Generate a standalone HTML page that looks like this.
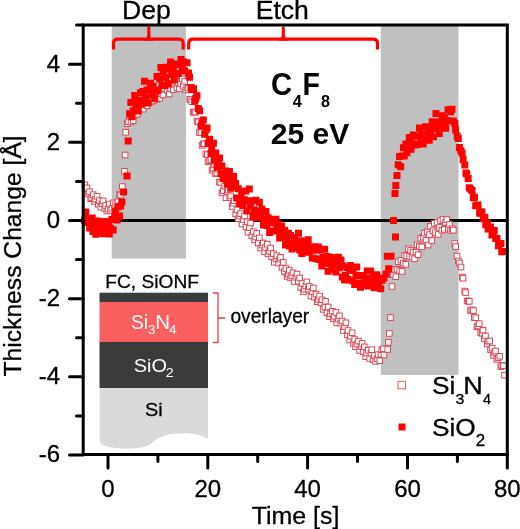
<!DOCTYPE html>
<html><head><meta charset="utf-8"><style>
html,body{margin:0;padding:0;background:#fff;}
svg{display:block;}
text{font-family:"Liberation Sans",Arial,sans-serif;}
</style></head><body>
<svg width="520" height="529" viewBox="0 0 520 529">
<rect width="520" height="529" fill="#fff"/>
<rect x="111.7" y="25" width="74.2" height="233.5" fill="#c0c0c0"/>
<rect x="380.8" y="25" width="77.7" height="350" fill="#c0c0c0"/>
<g fill="none" stroke="#ff0000" stroke-width="3.2">
<path d="M113.5 49.5 V43.5 Q113.5 39.2 117.8 39.2 H178.9 M117.8 39.2 H178.9 Q183.2 39.2 183.2 43.5 V49.5 M188.7 49.5 V43.5 Q188.7 39.2 193.0 39.2 H373.2 M193.0 39.2 H373.2 Q377.5 39.2 377.5 43.5 V49.5"/>
</g>
<path fill="#ff0000" d="M144.3 40.8 L153.3 40.8 Q150.4 38.5 150.4 35 L150.2 26.5 L147.4 26.5 L147.2 35 Q147.2 38.5 144.3 40.8 Z M278.8 40.8 L287.8 40.8 Q284.9 38.5 284.9 35 L284.7 26.5 L281.9 26.5 L281.7 35 Q281.7 38.5 278.8 40.8 Z"/>
<path d="M83.2 220.5 H507.3" stroke="#000" stroke-width="3"/>
<g stroke="#d84a5a" stroke-width="1" fill="#fff"><rect x="82" y="182" width="5.6" height="5.6"/><rect x="82.7" y="188" width="5.6" height="5.6"/><rect x="84.2" y="185.1" width="5.6" height="5.6"/><rect x="85.2" y="191.3" width="5.6" height="5.6"/><rect x="86.7" y="189" width="5.6" height="5.6"/><rect x="87.9" y="195.9" width="5.6" height="5.6"/><rect x="89" y="194.8" width="5.6" height="5.6"/><rect x="90.4" y="191.9" width="5.6" height="5.6"/><rect x="91.8" y="198.7" width="5.6" height="5.6"/><rect x="92.7" y="196.5" width="5.6" height="5.6"/><rect x="94.3" y="193.5" width="5.6" height="5.6"/><rect x="95.5" y="201.4" width="5.6" height="5.6"/><rect x="96.6" y="197.8" width="5.6" height="5.6"/><rect x="97.9" y="204.4" width="5.6" height="5.6"/><rect x="99.3" y="200.9" width="5.6" height="5.6"/><rect x="100.2" y="198.1" width="5.6" height="5.6"/><rect x="101.8" y="205.6" width="5.6" height="5.6"/><rect x="102.9" y="202.7" width="5.6" height="5.6"/><rect x="104" y="208.2" width="5.6" height="5.6"/><rect x="105.3" y="206.3" width="5.6" height="5.6"/><rect x="106.5" y="201.2" width="5.6" height="5.6"/><rect x="107.7" y="207.6" width="5.6" height="5.6"/><rect x="109.1" y="205.5" width="5.6" height="5.6"/><rect x="110.6" y="200.1" width="5.6" height="5.6"/><rect x="111.6" y="205.5" width="5.6" height="5.6"/><rect x="112.8" y="201.9" width="5.6" height="5.6"/><rect x="114.2" y="204" width="5.6" height="5.6"/><rect x="115.2" y="199" width="5.6" height="5.6"/><rect x="116.8" y="191.7" width="5.6" height="5.6"/><rect x="117.8" y="192.3" width="5.6" height="5.6"/><rect x="119.5" y="183.8" width="5.6" height="5.6"/><rect x="121.7" y="168.5" width="5.6" height="5.6"/><rect x="122.3" y="152.2" width="5.6" height="5.6"/><rect x="122.9" y="129.5" width="5.6" height="5.6"/><rect x="124.4" y="120.9" width="5.6" height="5.6"/><rect x="125.7" y="118.8" width="5.6" height="5.6"/><rect x="127" y="113.1" width="5.6" height="5.6"/><rect x="128.2" y="119.2" width="5.6" height="5.6"/><rect x="129.1" y="114.2" width="5.6" height="5.6"/><rect x="130.4" y="117.8" width="5.6" height="5.6"/><rect x="131.4" y="112.8" width="5.6" height="5.6"/><rect x="132.8" y="108" width="5.6" height="5.6"/><rect x="134.5" y="111.4" width="5.6" height="5.6"/><rect x="135.2" y="106.9" width="5.6" height="5.6"/><rect x="136.5" y="100.9" width="5.6" height="5.6"/><rect x="138.1" y="105.6" width="5.6" height="5.6"/><rect x="139.2" y="101.8" width="5.6" height="5.6"/><rect x="140.4" y="106.3" width="5.6" height="5.6"/><rect x="141.9" y="102" width="5.6" height="5.6"/><rect x="143.2" y="96.3" width="5.6" height="5.6"/><rect x="144.1" y="103" width="5.6" height="5.6"/><rect x="145.6" y="97.3" width="5.6" height="5.6"/><rect x="146.5" y="91.1" width="5.6" height="5.6"/><rect x="147.9" y="99" width="5.6" height="5.6"/><rect x="149.2" y="92.9" width="5.6" height="5.6"/><rect x="150.6" y="98.1" width="5.6" height="5.6"/><rect x="151.8" y="93.4" width="5.6" height="5.6"/><rect x="153" y="89.5" width="5.6" height="5.6"/><rect x="154" y="96.6" width="5.6" height="5.6"/><rect x="155.2" y="90.1" width="5.6" height="5.6"/><rect x="156.7" y="95.6" width="5.6" height="5.6"/><rect x="158" y="90.9" width="5.6" height="5.6"/><rect x="159.2" y="86.3" width="5.6" height="5.6"/><rect x="160.2" y="92.1" width="5.6" height="5.6"/><rect x="161.9" y="85.8" width="5.6" height="5.6"/><rect x="163.2" y="80.5" width="5.6" height="5.6"/><rect x="164.3" y="87.5" width="5.6" height="5.6"/><rect x="165.4" y="83.2" width="5.6" height="5.6"/><rect x="166.4" y="91.1" width="5.6" height="5.6"/><rect x="167.9" y="86" width="5.6" height="5.6"/><rect x="169.2" y="80.6" width="5.6" height="5.6"/><rect x="170.5" y="86.9" width="5.6" height="5.6"/><rect x="171.9" y="81.2" width="5.6" height="5.6"/><rect x="173.2" y="78.4" width="5.6" height="5.6"/><rect x="174.2" y="85.2" width="5.6" height="5.6"/><rect x="175.6" y="79.7" width="5.6" height="5.6"/><rect x="176.6" y="86" width="5.6" height="5.6"/><rect x="177.9" y="81" width="5.6" height="5.6"/><rect x="179.5" y="76.1" width="5.6" height="5.6"/><rect x="180.4" y="83.5" width="5.6" height="5.6"/><rect x="181.9" y="78.6" width="5.6" height="5.6"/><rect x="183" y="87.1" width="5.6" height="5.6"/><rect x="184.1" y="84.6" width="5.6" height="5.6"/><rect x="185.3" y="85.5" width="5.6" height="5.6"/><rect x="186.9" y="96.4" width="5.6" height="5.6"/><rect x="187.7" y="96.9" width="5.6" height="5.6"/><rect x="189" y="98.9" width="5.6" height="5.6"/><rect x="190.4" y="109.4" width="5.6" height="5.6"/><rect x="191.6" y="109.3" width="5.6" height="5.6"/><rect x="192.8" y="109.3" width="5.6" height="5.6"/><rect x="194.3" y="118.3" width="5.6" height="5.6"/><rect x="195.6" y="119" width="5.6" height="5.6"/><rect x="196.6" y="129.7" width="5.6" height="5.6"/><rect x="198.2" y="129.7" width="5.6" height="5.6"/><rect x="199.3" y="142.5" width="5.6" height="5.6"/><rect x="200.6" y="141.1" width="5.6" height="5.6"/><rect x="201.4" y="140.9" width="5.6" height="5.6"/><rect x="203" y="151.1" width="5.6" height="5.6"/><rect x="204.5" y="151.9" width="5.6" height="5.6"/><rect x="205.3" y="159" width="5.6" height="5.6"/><rect x="206.8" y="158" width="5.6" height="5.6"/><rect x="208.1" y="156.8" width="5.6" height="5.6"/><rect x="209.3" y="167.4" width="5.6" height="5.6"/><rect x="210.6" y="165.7" width="5.6" height="5.6"/><rect x="211.8" y="162.1" width="5.6" height="5.6"/><rect x="212.8" y="170.8" width="5.6" height="5.6"/><rect x="214" y="170.2" width="5.6" height="5.6"/><rect x="215.3" y="166.4" width="5.6" height="5.6"/><rect x="216.6" y="179.3" width="5.6" height="5.6"/><rect x="218" y="179.6" width="5.6" height="5.6"/><rect x="219.2" y="190" width="5.6" height="5.6"/><rect x="220.5" y="187.9" width="5.6" height="5.6"/><rect x="222" y="183.4" width="5.6" height="5.6"/><rect x="223.2" y="195" width="5.6" height="5.6"/><rect x="224.5" y="189" width="5.6" height="5.6"/><rect x="225.4" y="187.1" width="5.6" height="5.6"/><rect x="226.9" y="194.7" width="5.6" height="5.6"/><rect x="227.9" y="193.1" width="5.6" height="5.6"/><rect x="229.4" y="203.7" width="5.6" height="5.6"/><rect x="230.3" y="200.5" width="5.6" height="5.6"/><rect x="231.4" y="198" width="5.6" height="5.6"/><rect x="232.9" y="211.2" width="5.6" height="5.6"/><rect x="234.3" y="207" width="5.6" height="5.6"/><rect x="235.3" y="216" width="5.6" height="5.6"/><rect x="236.8" y="213.4" width="5.6" height="5.6"/><rect x="237.8" y="210.8" width="5.6" height="5.6"/><rect x="239.2" y="221.2" width="5.6" height="5.6"/><rect x="240.5" y="216.7" width="5.6" height="5.6"/><rect x="241.7" y="213.2" width="5.6" height="5.6"/><rect x="243.2" y="224.3" width="5.6" height="5.6"/><rect x="244.3" y="219" width="5.6" height="5.6"/><rect x="245.2" y="229.5" width="5.6" height="5.6"/><rect x="246.6" y="224.9" width="5.6" height="5.6"/><rect x="247.7" y="220.2" width="5.6" height="5.6"/><rect x="249.1" y="232.9" width="5.6" height="5.6"/><rect x="250.6" y="228.9" width="5.6" height="5.6"/><rect x="251.8" y="237" width="5.6" height="5.6"/><rect x="252.8" y="234.2" width="5.6" height="5.6"/><rect x="253.9" y="230.6" width="5.6" height="5.6"/><rect x="255.5" y="240.4" width="5.6" height="5.6"/><rect x="256.5" y="235.1" width="5.6" height="5.6"/><rect x="257.9" y="245.2" width="5.6" height="5.6"/><rect x="259.3" y="242.3" width="5.6" height="5.6"/><rect x="260.5" y="240.2" width="5.6" height="5.6"/><rect x="261.8" y="249.1" width="5.6" height="5.6"/><rect x="262.8" y="244.7" width="5.6" height="5.6"/><rect x="264.5" y="241.4" width="5.6" height="5.6"/><rect x="265.3" y="251" width="5.6" height="5.6"/><rect x="266.7" y="248.5" width="5.6" height="5.6"/><rect x="267.8" y="245.3" width="5.6" height="5.6"/><rect x="268.9" y="253.9" width="5.6" height="5.6"/><rect x="270.5" y="251" width="5.6" height="5.6"/><rect x="271.5" y="259.4" width="5.6" height="5.6"/><rect x="273.2" y="256.2" width="5.6" height="5.6"/><rect x="274" y="252.9" width="5.6" height="5.6"/><rect x="275.7" y="260.3" width="5.6" height="5.6"/><rect x="276.9" y="256.5" width="5.6" height="5.6"/><rect x="277.7" y="254.6" width="5.6" height="5.6"/><rect x="279.3" y="264.7" width="5.6" height="5.6"/><rect x="280.5" y="259.6" width="5.6" height="5.6"/><rect x="281.6" y="268.8" width="5.6" height="5.6"/><rect x="283.2" y="265.8" width="5.6" height="5.6"/><rect x="284.4" y="273.6" width="5.6" height="5.6"/><rect x="285.6" y="271.5" width="5.6" height="5.6"/><rect x="286.4" y="267.6" width="5.6" height="5.6"/><rect x="287.8" y="275.1" width="5.6" height="5.6"/><rect x="288.9" y="272.7" width="5.6" height="5.6"/><rect x="290.2" y="270" width="5.6" height="5.6"/><rect x="291.4" y="278.7" width="5.6" height="5.6"/><rect x="293.1" y="274.5" width="5.6" height="5.6"/><rect x="294.2" y="271.3" width="5.6" height="5.6"/><rect x="295.5" y="278.4" width="5.6" height="5.6"/><rect x="296.9" y="275.2" width="5.6" height="5.6"/><rect x="298" y="284.7" width="5.6" height="5.6"/><rect x="299.4" y="280.7" width="5.6" height="5.6"/><rect x="300.7" y="288.8" width="5.6" height="5.6"/><rect x="301.6" y="286.5" width="5.6" height="5.6"/><rect x="303" y="283.2" width="5.6" height="5.6"/><rect x="304" y="279.1" width="5.6" height="5.6"/><rect x="305.6" y="286.4" width="5.6" height="5.6"/><rect x="306.5" y="283.6" width="5.6" height="5.6"/><rect x="308.2" y="293.2" width="5.6" height="5.6"/><rect x="309.2" y="288.8" width="5.6" height="5.6"/><rect x="310.6" y="285.2" width="5.6" height="5.6"/><rect x="311.7" y="294.4" width="5.6" height="5.6"/><rect x="313.2" y="291.4" width="5.6" height="5.6"/><rect x="314.4" y="298.9" width="5.6" height="5.6"/><rect x="315.5" y="296.7" width="5.6" height="5.6"/><rect x="316.8" y="293.3" width="5.6" height="5.6"/><rect x="318.2" y="300.1" width="5.6" height="5.6"/><rect x="319.2" y="297" width="5.6" height="5.6"/><rect x="320.3" y="306.6" width="5.6" height="5.6"/><rect x="322" y="304.3" width="5.6" height="5.6"/><rect x="322.7" y="298.5" width="5.6" height="5.6"/><rect x="324.1" y="310" width="5.6" height="5.6"/><rect x="325.4" y="304.2" width="5.6" height="5.6"/><rect x="326.7" y="313.9" width="5.6" height="5.6"/><rect x="327.7" y="311" width="5.6" height="5.6"/><rect x="329.5" y="308.5" width="5.6" height="5.6"/><rect x="330.6" y="315.8" width="5.6" height="5.6"/><rect x="331.7" y="313.5" width="5.6" height="5.6"/><rect x="333.1" y="309.6" width="5.6" height="5.6"/><rect x="333.9" y="320.1" width="5.6" height="5.6"/><rect x="335.3" y="316.2" width="5.6" height="5.6"/><rect x="336.7" y="313" width="5.6" height="5.6"/><rect x="337.9" y="320.3" width="5.6" height="5.6"/><rect x="339.2" y="318.1" width="5.6" height="5.6"/><rect x="340.6" y="327.7" width="5.6" height="5.6"/><rect x="341.8" y="324" width="5.6" height="5.6"/><rect x="343.1" y="320" width="5.6" height="5.6"/><rect x="344.4" y="332" width="5.6" height="5.6"/><rect x="345.2" y="327.7" width="5.6" height="5.6"/><rect x="346.9" y="337.2" width="5.6" height="5.6"/><rect x="347.7" y="333.4" width="5.6" height="5.6"/><rect x="349.4" y="330" width="5.6" height="5.6"/><rect x="350.7" y="340.6" width="5.6" height="5.6"/><rect x="351.8" y="336.7" width="5.6" height="5.6"/><rect x="352.7" y="343.9" width="5.6" height="5.6"/><rect x="354.2" y="341.3" width="5.6" height="5.6"/><rect x="355.7" y="338.4" width="5.6" height="5.6"/><rect x="356.8" y="347.6" width="5.6" height="5.6"/><rect x="358.2" y="343.6" width="5.6" height="5.6"/><rect x="359.3" y="340.6" width="5.6" height="5.6"/><rect x="360.4" y="349" width="5.6" height="5.6"/><rect x="361.5" y="344.1" width="5.6" height="5.6"/><rect x="362.9" y="353.9" width="5.6" height="5.6"/><rect x="363.9" y="350.2" width="5.6" height="5.6"/><rect x="365.4" y="347.5" width="5.6" height="5.6"/><rect x="366.9" y="355.7" width="5.6" height="5.6"/><rect x="368.2" y="350.3" width="5.6" height="5.6"/><rect x="369" y="346.9" width="5.6" height="5.6"/><rect x="370.3" y="357" width="5.6" height="5.6"/><rect x="371.7" y="352.6" width="5.6" height="5.6"/><rect x="372.8" y="358.6" width="5.6" height="5.6"/><rect x="374.3" y="355.9" width="5.6" height="5.6"/><rect x="375.3" y="351.9" width="5.6" height="5.6"/><rect x="377" y="357.9" width="5.6" height="5.6"/><rect x="378.2" y="351.3" width="5.6" height="5.6"/><rect x="379" y="346.9" width="5.6" height="5.6"/><rect x="380.6" y="346" width="5.6" height="5.6"/><rect x="381.2" y="352.2" width="5.6" height="5.6"/><rect x="384.9" y="346.6" width="5.6" height="5.6"/><rect x="385.6" y="339.6" width="5.6" height="5.6"/><rect x="386.5" y="330.7" width="5.6" height="5.6"/><rect x="387.7" y="314.8" width="5.6" height="5.6"/><rect x="389.2" y="283.7" width="5.6" height="5.6"/><rect x="389.2" y="271.7" width="5.6" height="5.6"/><rect x="390.4" y="271.9" width="5.6" height="5.6"/><rect x="391.8" y="266.7" width="5.6" height="5.6"/><rect x="393" y="273.9" width="5.6" height="5.6"/><rect x="394.2" y="266.5" width="5.6" height="5.6"/><rect x="395.5" y="258.9" width="5.6" height="5.6"/><rect x="396.9" y="267.7" width="5.6" height="5.6"/><rect x="398.1" y="257.4" width="5.6" height="5.6"/><rect x="399.2" y="268.6" width="5.6" height="5.6"/><rect x="400.6" y="260.4" width="5.6" height="5.6"/><rect x="401.9" y="252.6" width="5.6" height="5.6"/><rect x="403" y="261.5" width="5.6" height="5.6"/><rect x="403.9" y="253" width="5.6" height="5.6"/><rect x="405.6" y="246" width="5.6" height="5.6"/><rect x="406.9" y="253.6" width="5.6" height="5.6"/><rect x="407.8" y="247.6" width="5.6" height="5.6"/><rect x="409.3" y="254.3" width="5.6" height="5.6"/><rect x="410.2" y="249.3" width="5.6" height="5.6"/><rect x="411.7" y="256" width="5.6" height="5.6"/><rect x="413.2" y="249.5" width="5.6" height="5.6"/><rect x="414.4" y="242" width="5.6" height="5.6"/><rect x="415.3" y="251.9" width="5.6" height="5.6"/><rect x="416.5" y="243.6" width="5.6" height="5.6"/><rect x="417.9" y="235.5" width="5.6" height="5.6"/><rect x="419" y="244.1" width="5.6" height="5.6"/><rect x="420.4" y="234.3" width="5.6" height="5.6"/><rect x="421.6" y="230.3" width="5.6" height="5.6"/><rect x="423.2" y="237.4" width="5.6" height="5.6"/><rect x="424.4" y="229.1" width="5.6" height="5.6"/><rect x="425.3" y="242.2" width="5.6" height="5.6"/><rect x="426.6" y="231.8" width="5.6" height="5.6"/><rect x="427.7" y="223.6" width="5.6" height="5.6"/><rect x="429" y="237.8" width="5.6" height="5.6"/><rect x="430.2" y="227.9" width="5.6" height="5.6"/><rect x="431.5" y="220.5" width="5.6" height="5.6"/><rect x="432.7" y="229.8" width="5.6" height="5.6"/><rect x="434.3" y="219.7" width="5.6" height="5.6"/><rect x="435.4" y="231.6" width="5.6" height="5.6"/><rect x="436.7" y="224.7" width="5.6" height="5.6"/><rect x="437.7" y="217.8" width="5.6" height="5.6"/><rect x="439.1" y="227.5" width="5.6" height="5.6"/><rect x="440.2" y="216.6" width="5.6" height="5.6"/><rect x="441.5" y="226.6" width="5.6" height="5.6"/><rect x="442.8" y="219.6" width="5.6" height="5.6"/><rect x="444" y="216.8" width="5.6" height="5.6"/><rect x="445.5" y="225.3" width="5.6" height="5.6"/><rect x="446.7" y="221.6" width="5.6" height="5.6"/><rect x="447.7" y="227.5" width="5.6" height="5.6"/><rect x="449.3" y="225.8" width="5.6" height="5.6"/><rect x="450.5" y="227.4" width="5.6" height="5.6"/><rect x="451.9" y="240.7" width="5.6" height="5.6"/><rect x="452.9" y="243.8" width="5.6" height="5.6"/><rect x="454.2" y="253.3" width="5.6" height="5.6"/><rect x="455.6" y="258.2" width="5.6" height="5.6"/><rect x="456.7" y="260.2" width="5.6" height="5.6"/><rect x="458.2" y="264.2" width="5.6" height="5.6"/><rect x="459.4" y="274.2" width="5.6" height="5.6"/><rect x="460.2" y="275.4" width="5.6" height="5.6"/><rect x="461.9" y="288.3" width="5.6" height="5.6"/><rect x="462.8" y="289.8" width="5.6" height="5.6"/><rect x="464.3" y="298.2" width="5.6" height="5.6"/><rect x="465.6" y="298.2" width="5.6" height="5.6"/><rect x="466.5" y="298.5" width="5.6" height="5.6"/><rect x="467.7" y="307.6" width="5.6" height="5.6"/><rect x="469.1" y="307" width="5.6" height="5.6"/><rect x="470.6" y="307.8" width="5.6" height="5.6"/><rect x="471.5" y="314.7" width="5.6" height="5.6"/><rect x="473" y="314.9" width="5.6" height="5.6"/><rect x="474.2" y="324" width="5.6" height="5.6"/><rect x="475.2" y="323.2" width="5.6" height="5.6"/><rect x="476.4" y="320.9" width="5.6" height="5.6"/><rect x="477.9" y="329.8" width="5.6" height="5.6"/><rect x="479.4" y="330.6" width="5.6" height="5.6"/><rect x="480.2" y="327.4" width="5.6" height="5.6"/><rect x="481.5" y="335.7" width="5.6" height="5.6"/><rect x="482.7" y="333.2" width="5.6" height="5.6"/><rect x="484.5" y="341.1" width="5.6" height="5.6"/><rect x="485.2" y="338.4" width="5.6" height="5.6"/><rect x="486.9" y="338.2" width="5.6" height="5.6"/><rect x="487.7" y="346.8" width="5.6" height="5.6"/><rect x="489.3" y="345.4" width="5.6" height="5.6"/><rect x="490.7" y="352.5" width="5.6" height="5.6"/><rect x="491.8" y="349.7" width="5.6" height="5.6"/><rect x="492.8" y="348.3" width="5.6" height="5.6"/><rect x="494" y="356.6" width="5.6" height="5.6"/><rect x="495.4" y="355" width="5.6" height="5.6"/><rect x="497" y="353.5" width="5.6" height="5.6"/><rect x="498" y="363.8" width="5.6" height="5.6"/><rect x="499" y="362.7" width="5.6" height="5.6"/><rect x="500.6" y="363" width="5.6" height="5.6"/><rect x="501.7" y="372.4" width="5.6" height="5.6"/></g>
<path fill="#ff0000" d="M81 216.7h7v7h-7zM82.2 208.6h7v7h-7zM83.6 219.1h7v7h-7zM84.8 214.7h7v7h-7zM86.2 224.4h7v7h-7zM87.1 217.9h7v7h-7zM88.7 214.6h7v7h-7zM89.5 228h7v7h-7zM91.3 220.6h7v7h-7zM92.3 230.7h7v7h-7zM93.2 225.6h7v7h-7zM94.5 217.6h7v7h-7zM95.8 229.4h7v7h-7zM97.2 224.8h7v7h-7zM98.7 218.1h7v7h-7zM99.8 230.2h7v7h-7zM101.1 222.8h7v7h-7zM102.1 218h7v7h-7zM103.8 229.5h7v7h-7zM104.9 218.9h7v7h-7zM105.8 230.6h7v7h-7zM107 224.7h7v7h-7zM108.4 215.9h7v7h-7zM109.7 226.5h7v7h-7zM111.2 212.6h7v7h-7zM112.1 207.9h7v7h-7zM113.5 216.5h7v7h-7zM114.7 203.2h7v7h-7zM116.1 212.6h7v7h-7zM117.1 202.6h7v7h-7zM118.4 198.4h7v7h-7zM120.1 188.5h7v7h-7zM123.5 172.5h7v7h-7zM124.7 137.5h7v7h-7zM126.1 110.3h7v7h-7zM127.3 99h7v7h-7zM128.5 113.3h7v7h-7zM129.6 107.2h7v7h-7zM131.2 92h7v7h-7zM132.5 105.3h7v7h-7zM133.4 98.3h7v7h-7zM134.8 107.5h7v7h-7zM136.3 96.7h7v7h-7zM137.1 89.3h7v7h-7zM138.4 100.5h7v7h-7zM139.5 88h7v7h-7zM141 77.8h7v7h-7zM142.3 93.8h7v7h-7zM143.5 86.6h7v7h-7zM144.7 99.6h7v7h-7zM146.2 85.9h7v7h-7zM147 79.7h7v7h-7zM148.7 90.9h7v7h-7zM149.6 83.1h7v7h-7zM151.3 94.9h7v7h-7zM152.5 87.7h7v7h-7zM153.6 73.1h7v7h-7zM154.5 86.7h7v7h-7zM156.3 75.6h7v7h-7zM157.4 64h7v7h-7zM158.7 81.9h7v7h-7zM159.6 67.9h7v7h-7zM161.1 81.9h7v7h-7zM162.1 74h7v7h-7zM163.7 63.8h7v7h-7zM164.6 80.6h7v7h-7zM165.8 65.5h7v7h-7zM167.1 58.5h7v7h-7zM168.2 71.1h7v7h-7zM169.7 64h7v7h-7zM170.8 76.3h7v7h-7zM172.5 70.4h7v7h-7zM173.6 60.4h7v7h-7zM174.8 70h7v7h-7zM175.7 61.2h7v7h-7zM177.5 56.1h7v7h-7zM178.8 63.8h7v7h-7zM179.8 58.3h7v7h-7zM181.1 67.3h7v7h-7zM182.5 59.2h7v7h-7zM183.5 59.2h7v7h-7zM185 69.4h7v7h-7zM186.1 73.8h7v7h-7zM187.5 84h7v7h-7zM188.6 85.9h7v7h-7zM190 85.2h7v7h-7zM191.2 97.7h7v7h-7zM192.3 95.1h7v7h-7zM193.4 92.3h7v7h-7zM194.8 105.1h7v7h-7zM196.1 107.2h7v7h-7zM197.5 122.6h7v7h-7zM198.4 119.4h7v7h-7zM199.8 116.4h7v7h-7zM201.2 130.8h7v7h-7zM202.4 126.5h7v7h-7zM203.6 124.4h7v7h-7zM204.6 139.7h7v7h-7zM206 135.8h7v7h-7zM207.5 150h7v7h-7zM208.2 144.6h7v7h-7zM209.9 139.8h7v7h-7zM210.8 156.8h7v7h-7zM212.3 149.6h7v7h-7zM213.7 163.8h7v7h-7zM214.8 157.4h7v7h-7zM216 154.5h7v7h-7zM217.5 170h7v7h-7zM218.4 162.4h7v7h-7zM219.6 175.2h7v7h-7zM221 173.4h7v7h-7zM222.5 167.5h7v7h-7zM223.8 180.8h7v7h-7zM224.6 175h7v7h-7zM225.9 167.9h7v7h-7zM227.2 184.7h7v7h-7zM228.5 176.3h7v7h-7zM230 173.1h7v7h-7zM231 183h7v7h-7zM232 179.9h7v7h-7zM233.2 194.5h7v7h-7zM234.8 185.2h7v7h-7zM236.2 200.2h7v7h-7zM237 194.5h7v7h-7zM238.2 188.4h7v7h-7zM239.6 201.9h7v7h-7zM240.7 196.2h7v7h-7zM242.2 187.4h7v7h-7zM243.6 207.5h7v7h-7zM245 197.4h7v7h-7zM245.8 185.5h7v7h-7zM247.1 201.9h7v7h-7zM248.5 197.2h7v7h-7zM249.6 213.3h7v7h-7zM250.9 206.6h7v7h-7zM252.3 196.8h7v7h-7zM253.7 214h7v7h-7zM254.9 208.2h7v7h-7zM255.8 198.8h7v7h-7zM257.4 211.7h7v7h-7zM258.5 205.8h7v7h-7zM260 221.4h7v7h-7zM261 215.7h7v7h-7zM262.4 208.1h7v7h-7zM263.5 222h7v7h-7zM264.6 214.2h7v7h-7zM266.2 229h7v7h-7zM267.4 219h7v7h-7zM268.7 215.8h7v7h-7zM270 227.5h7v7h-7zM271.2 219.6h7v7h-7zM272.5 215.8h7v7h-7zM273.4 225.3h7v7h-7zM274.7 221.1h7v7h-7zM276.2 234.5h7v7h-7zM277 229.2h7v7h-7zM278.2 222.6h7v7h-7zM279.6 234h7v7h-7zM281.2 226.9h7v7h-7zM282 241.6h7v7h-7zM283.6 236.3h7v7h-7zM284.9 229.7h7v7h-7zM286 242.6h7v7h-7zM287 232h7v7h-7zM288.5 245.4h7v7h-7zM289.9 240h7v7h-7zM291 233.9h7v7h-7zM292.3 244.3h7v7h-7zM293.4 239.8h7v7h-7zM295 229.8h7v7h-7zM296.2 246.4h7v7h-7zM297.3 237.3h7v7h-7zM298.3 250h7v7h-7zM299.8 243.4h7v7h-7zM300.7 237.9h7v7h-7zM302.3 248.5h7v7h-7zM303.7 242.6h7v7h-7zM304.7 236.3h7v7h-7zM305.7 248.8h7v7h-7zM307.2 244.1h7v7h-7zM308.8 254.4h7v7h-7zM309.7 246.7h7v7h-7zM311 243.2h7v7h-7zM312.5 255.2h7v7h-7zM313.4 246.7h7v7h-7zM314.8 243.5h7v7h-7zM315.8 256.1h7v7h-7zM317 246.3h7v7h-7zM318.3 262.4h7v7h-7zM319.6 253.8h7v7h-7zM321.1 245.7h7v7h-7zM322.4 259.4h7v7h-7zM323.5 252.9h7v7h-7zM324.6 267.7h7v7h-7zM326 260h7v7h-7zM327.2 253.7h7v7h-7zM328.3 265.6h7v7h-7zM329.8 260.9h7v7h-7zM331 254.7h7v7h-7zM332.3 268.4h7v7h-7zM333.3 260.3h7v7h-7zM334.9 253.8h7v7h-7zM335.9 264.3h7v7h-7zM337.5 256.5h7v7h-7zM338.8 273.5h7v7h-7zM339.5 262.5h7v7h-7zM341.1 276.4h7v7h-7zM342 271.7h7v7h-7zM343.5 264h7v7h-7zM344.5 275.7h7v7h-7zM346.1 266.3h7v7h-7zM347.1 262h7v7h-7zM348.7 277.3h7v7h-7zM349.5 267.1h7v7h-7zM351.2 280.9h7v7h-7zM352.4 271.7h7v7h-7zM353.2 263.4h7v7h-7zM354.5 279.4h7v7h-7zM356 271.9h7v7h-7zM357 283.7h7v7h-7zM358.3 279.4h7v7h-7zM360 272.3h7v7h-7zM360.8 281.5h7v7h-7zM362.5 276h7v7h-7zM363.7 267.5h7v7h-7zM364.7 282.4h7v7h-7zM366 275h7v7h-7zM367 267.6h7v7h-7zM368.7 279h7v7h-7zM369.7 273.6h7v7h-7zM370.9 284.3h7v7h-7zM372 277.6h7v7h-7zM373.2 271.2h7v7h-7zM374.9 283.8h7v7h-7zM376.2 275h7v7h-7zM377.2 285.3h7v7h-7zM378.5 276.8h7v7h-7zM380.5 274.5h7v7h-7zM382.5 270.5h7v7h-7zM383.8 252.8h7v7h-7zM385.2 265.2h7v7h-7zM387.5 252.8h7v7h-7zM390 217.1h7v7h-7zM391.5 190.1h7v7h-7zM392 233.5h7v7h-7zM392.3 182h7v7h-7zM393.5 172h7v7h-7zM394.7 161.2h7v7h-7zM396 153h7v7h-7zM397.2 163.3h7v7h-7zM398.6 152.4h7v7h-7zM399.9 144.2h7v7h-7zM400.7 152.4h7v7h-7zM402.4 140.5h7v7h-7zM403.4 149.2h7v7h-7zM404.6 142.6h7v7h-7zM405.8 133.9h7v7h-7zM407.5 145.8h7v7h-7zM408.5 139.7h7v7h-7zM409.8 131.5h7v7h-7zM411.1 141.6h7v7h-7zM412 132.5h7v7h-7zM413.7 140.9h7v7h-7zM415 132.8h7v7h-7zM416 124.5h7v7h-7zM417.2 137.9h7v7h-7zM418.2 131.1h7v7h-7zM419.7 140.5h7v7h-7zM421.1 130.8h7v7h-7zM422.1 123.3h7v7h-7zM423.5 133.4h7v7h-7zM424.9 124.2h7v7h-7zM425.7 136.8h7v7h-7zM427 127h7v7h-7zM428.7 118.3h7v7h-7zM430 133.2h7v7h-7zM430.7 125.2h7v7h-7zM432.5 109.9h7v7h-7zM433.7 125.3h7v7h-7zM434.7 118.6h7v7h-7zM435.8 129.9h7v7h-7zM437.5 120.6h7v7h-7zM438.5 112.3h7v7h-7zM439.9 123.5h7v7h-7zM440.8 114.1h7v7h-7zM442.2 124.8h7v7h-7zM443.2 117h7v7h-7zM444.5 106.2h7v7h-7zM446.1 117.6h7v7h-7zM447.1 108.2h7v7h-7zM448.5 105.7h7v7h-7zM449.8 117.6h7v7h-7zM451.3 119.8h7v7h-7zM452.1 126.5h7v7h-7zM453.7 132.8h7v7h-7zM454.8 134.9h7v7h-7zM455.9 144.1h7v7h-7zM457.3 147.3h7v7h-7zM458.6 149.5h7v7h-7zM459.6 156.3h7v7h-7zM461.3 161.5h7v7h-7zM462.5 169.4h7v7h-7zM463.2 170.5h7v7h-7zM464.7 175.1h7v7h-7zM465.8 184.3h7v7h-7zM467 185.4h7v7h-7zM468.6 187.1h7v7h-7zM469.8 194.2h7v7h-7zM471 193.8h7v7h-7zM472.2 202.2h7v7h-7zM473.7 201.4h7v7h-7zM474.5 201.6h7v7h-7zM476.1 209.7h7v7h-7zM477.1 208.2h7v7h-7zM478.4 208.6h7v7h-7zM479.7 215.3h7v7h-7zM481.3 213.8h7v7h-7zM482.3 221.3h7v7h-7zM483.8 219.5h7v7h-7zM484.7 225.4h7v7h-7zM486.2 224.5h7v7h-7zM487 223.4h7v7h-7zM488.5 231.4h7v7h-7zM489.6 230h7v7h-7zM490.7 227.1h7v7h-7zM492.3 235h7v7h-7zM493.4 234.7h7v7h-7zM494.9 242.3h7v7h-7zM495.8 240.6h7v7h-7zM497.4 240h7v7h-7zM498.3 248.3h7v7h-7zM499.8 248.1h7v7h-7zM501.3 248.1h7v7h-7z"/>
<g fill="none" stroke="#000" stroke-width="3">
<path d="M83.2 25 H507.3 V454.6 H83.2 Z"/>
<path stroke-linecap="round" d="M69.5 64.2 H83.2 M69.5 142.3 H83.2 M69.5 220.5 H83.2 M69.5 298.7 H83.2 M69.5 376.8 H83.2 M69.5 455 H83.2 M76.5 25.1 H83.2 M76.5 103.3 H83.2 M76.5 181.4 H83.2 M76.5 259.6 H83.2 M76.5 337.7 H83.2 M76.5 415.9 H83.2 M108 454.6 V468 M207.8 454.6 V468 M307.6 454.6 V468 M407.5 454.6 V468 M507.3 454.6 V468 M157.9 454.6 V461.5 M257.7 454.6 V461.5 M357.5 454.6 V461.5 M457.4 454.6 V461.5"/>
</g>
<g font-size="24" fill="#000" stroke="#000" stroke-width="0.3">
<g text-anchor="end"><text x="60" y="71.6">4</text><text x="60" y="149.7">2</text><text x="60" y="227.9">0</text><text x="60" y="306.1">-2</text><text x="60" y="384.2">-4</text><text x="60" y="462.4">-6</text></g>
<g text-anchor="middle"><text x="108" y="497.2">0</text><text x="207.8" y="497.2">20</text><text x="307.6" y="497.2">40</text><text x="407.5" y="497.2">60</text><text x="507.3" y="497.2">80</text></g>
</g>
<g fill="#000" stroke="#000" stroke-width="0.3">
<text transform="translate(251.7,523.6) scale(1.006,1)" font-size="24.8">Time [s]</text>
<text transform="translate(21.2,376.5) rotate(-90)" font-size="24.67">Thickness Change [Å]</text>
<text x="122" y="18.8" font-size="26.6">Dep</text>
<text x="255.7" y="18.8" font-size="26.6">Etch</text>
</g>
<g font-weight="bold" fill="#000">
<text transform="translate(271,95.3) scale(0.95,1)" font-size="30.8">C</text>
<text transform="translate(302.5,95.4) scale(0.925,1)" font-size="30.8">F</text>
<text transform="translate(292.8,107.1) scale(0.94,1)" font-size="17.4">4</text>
<text transform="translate(320.9,107.0) scale(0.93,1)" font-size="17.4">8</text>
<text x="270.8" y="143.75" font-size="30.07">25 eV</text>
</g>
<!-- inset -->
<path d="M99.6 388 H208 V438.8 C198 433 184 432.5 173.5 433.8 C163 435 156 439 151 444 C146 448 130 449 118 448.2 C106 447.5 99.6 445 99.6 440 Z" fill="#dadada"/>
<rect x="99.5" y="342" width="108.5" height="46" fill="#3b3b3b"/>
<rect x="99.5" y="302" width="108.5" height="40" fill="#fa5f5f"/>
<rect x="99.5" y="292.7" width="108.5" height="9.3" fill="#383c3e"/>
<path d="M212.7 293 H218 V342.5 H212.7 M218 318 H225" fill="none" stroke="#d84848" stroke-width="1.3"/>
<g fill="#000" stroke="#000" stroke-width="0.3">
<text transform="translate(105.3,287.5) scale(1.02,1)" font-size="18.8">FC, SiONF</text>
<text transform="translate(230.4,323.2) scale(0.993,1)" font-size="19.3">overlayer</text>
<text transform="translate(145,416.05) scale(1.044,1)" font-size="19.1">Si</text>
</g>
<g fill="#fff">
<text transform="translate(131,329.25) scale(0.98,1)" font-size="19.6">Si</text>
<text transform="translate(147.9,333.8) scale(0.985,1)" font-size="13.6">3</text>
<text transform="translate(155.2,329.2) scale(1.045,1)" font-size="19.6">N</text>
<text transform="translate(168.9,333.6) scale(1.05,1)" font-size="13">4</text>
<text transform="translate(133.8,372.45) scale(1.04,1)" font-size="19.2">SiO</text>
<text transform="translate(165.7,377.2) scale(1.1,1)" font-size="13">2</text>
</g>
<!-- legend -->
<rect x="398" y="381.3" width="7.5" height="7.5" fill="#fff" stroke="#e06060" stroke-width="1"/>
<rect x="398.5" y="423.5" width="7" height="7" fill="#ff0000"/>
<g fill="#000" stroke="#000" stroke-width="0.3">
<text transform="translate(432,393.65) scale(1.06,1)" font-size="24.8">Si</text>
<text transform="translate(455.6,404.2) scale(1.03,1)" font-size="15.5">3</text>
<text transform="translate(463.2,393.65) scale(1.11,1)" font-size="24.4">N</text>
<text transform="translate(483.1,404.3) scale(0.93,1)" font-size="15.5">4</text>
<text transform="translate(432,435.65) scale(1.06,1)" font-size="24.8">SiO</text>
<text transform="translate(475.7,446.2) scale(1.03,1)" font-size="16.4">2</text>
</g>
</svg>
</body></html>
